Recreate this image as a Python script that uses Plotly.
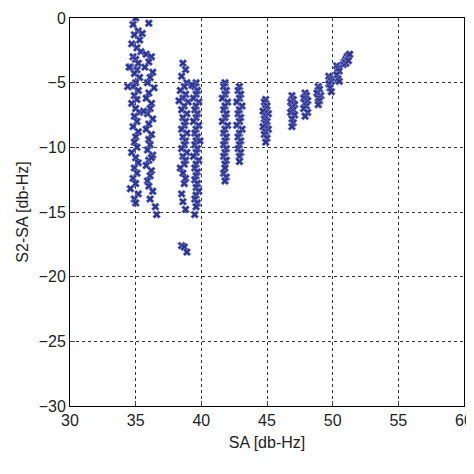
import plotly.graph_objects as go

# SA values (db-Hz) and S2-SA values (db-Hz)
col_a_x = [35.0, 34.8, 35.2, 34.9, 35.3, 34.7, 35.1, 35.4, 34.8, 35.0, 35.2, 34.6, 35.1, 34.9, 35.3, 35.0,
           34.8, 35.2, 34.9, 35.1, 34.7, 35.0, 35.3, 34.9, 35.1, 34.8, 35.2, 35.0, 34.9, 35.1, 34.7, 35.0,
           35.2, 34.9, 35.1, 34.8, 35.0, 34.6, 35.2, 34.9, 34.5, 34.4, 35.5, 35.0]
col_a_y = [0, -0.5, -1, -1.3, -1.7, -2, -2.3, -2.6, -3, -3.2, -3.5, -3.8, -4, -4.3, -4.6, -5,
           -5.3, -5.6, -6, -6.3, -6.6, -7, -7.3, -7.6, -8, -8.4, -8.8, -9.2, -9.6, -10, -10.4, -10.8,
           -11.2, -11.6, -12, -12.4, -12.8, -13.2, -13.6, -14, -3.8, -5.3, -1.2, -14.3]
col_b_x = [36.0, 35.8, 36.2, 36.0, 35.7, 36.3, 36.1, 35.9, 36.4, 36.0, 35.8, 36.2, 36.1, 35.9, 36.3, 36.0,
           35.8, 36.2, 36.0, 36.1, 35.9, 36.3, 36.0, 35.8, 36.2, 36.1, 35.9, 36.0, 36.3, 36.1, 36.5, 36.6,
           35.6, 36.2]
col_b_y = [-0.4, -2.8, -3, -3.4, -3.8, -4.2, -4.6, -5, -5.4, -5.8, -6.2, -6.6, -7, -7.4, -7.8, -8.2,
           -8.6, -9, -9.4, -9.8, -10.2, -10.6, -11, -11.4, -11.8, -12.2, -12.6, -13, -13.4, -14, -14.6, -15.2,
           -7.2, -10.8]
col_c_x = [38.6, 38.8, 38.5, 38.9, 38.7, 38.4, 38.8, 38.6, 39.0, 38.7, 38.5, 38.9, 38.6, 38.8, 38.7, 38.5,
           38.9, 38.6, 38.8, 38.7, 38.5, 38.9, 38.6, 38.8, 38.7, 38.4, 38.6, 38.8, 38.7, 38.5, 38.6, 38.8,
           38.5, 38.7, 38.9, 38.3]
col_c_y = [-3.5, -4, -4.5, -5, -5.3, -5.6, -5.9, -6.2, -6.5, -6.8, -7.1, -7.4, -7.7, -8, -8.3, -8.6,
           -8.9, -9.2, -9.5, -9.8, -10.1, -10.4, -10.7, -11, -11.3, -11.6, -12, -12.4, -12.8, -13.6, -14.2, -14.8,
           -17.6, -17.7, -18.1, -6.4]
col_d_x = [39.6, 39.5, 39.7, 39.6, 39.4, 39.8, 39.6, 39.5, 39.7, 39.6, 39.4, 39.8, 39.6, 39.5, 39.7, 39.6,
           39.5, 39.7, 39.6, 39.4, 39.8, 39.6, 39.5, 39.7, 39.6, 39.5, 39.7, 39.6, 39.8, 39.6, 39.5, 39.7,
           39.6, 39.9, 39.5, 39.3]
col_d_y = [-5, -5.3, -5.6, -5.9, -6.2, -6.5, -6.8, -7.1, -7.4, -7.7, -8, -8.3, -8.6, -8.9, -9.2, -9.5,
           -9.8, -10.1, -10.4, -10.7, -11, -11.3, -11.6, -11.9, -12.2, -12.5, -12.8, -13.1, -13.4, -13.7, -14, -14.3,
           -14.6, -9.5, -15.2, -5.2]
col_e_x = [41.8, 41.7, 41.9, 41.8, 41.6, 42.0, 41.8, 41.7, 41.9, 41.8, 41.6, 42.0, 41.8, 41.7, 41.9, 41.8,
           41.7, 41.9, 41.8, 41.7, 41.9, 41.8, 41.8, 41.7, 41.9, 41.8]
col_e_y = [-5, -5.3, -5.6, -5.9, -6.2, -6.5, -6.8, -7.1, -7.4, -7.7, -8, -8.3, -8.6, -8.9, -9.2, -9.5,
           -9.8, -10.1, -10.4, -10.7, -11, -11.3, -11.6, -12, -12.3, -12.6]
col_f_x = [42.9, 42.8, 43.0, 42.9, 42.7, 43.1, 42.9, 42.8, 43.0, 42.9, 42.7, 43.1, 42.9, 42.8, 43.0, 42.9,
           42.8, 43.0, 42.9, 42.9]
col_f_y = [-5.3, -5.6, -5.9, -6.2, -6.5, -6.8, -7.1, -7.4, -7.7, -8, -8.3, -8.6, -8.9, -9.2, -9.5, -9.8,
           -10.1, -10.4, -10.7, -11.1]
col_g_x = [44.9, 44.8, 45.0, 44.9, 44.7, 45.1, 44.9, 44.8, 45.0, 44.9, 44.7, 45.1, 44.9, 44.8, 45.0, 44.9]
col_g_y = [-6.3, -6.5, -6.8, -7.0, -7.2, -7.4, -7.6, -7.8, -8.0, -8.2, -8.4, -8.6, -8.8, -9.0, -9.3, -9.6]
col_h_x = [46.9, 47.0, 46.8, 47.1, 46.9, 47.0, 46.8, 47.1, 46.9, 47.0, 46.9]
col_h_y = [-6.0, -6.3, -6.5, -6.7, -6.9, -7.1, -7.3, -7.5, -7.8, -8.1, -8.4]
col_i_x = [47.9, 48.0, 47.8, 48.1, 47.9, 48.0, 47.8, 48.1, 47.9]
col_i_y = [-5.8, -6.0, -6.2, -6.4, -6.6, -6.8, -7.0, -7.3, -7.6]
col_j_x = [48.9, 49.0, 48.8, 49.1, 48.9, 49.0, 48.9]
col_j_y = [-5.3, -5.5, -5.8, -6.0, -6.2, -6.4, -6.7]
col_k_x = [49.7, 49.8, 49.9, 49.7, 49.8, 49.9]
col_k_y = [-4.5, -4.7, -4.9, -5.1, -5.4, -5.7]
col_l_x = [50.3, 50.4, 50.5, 50.3, 50.4, 50.5]
col_l_y = [-3.7, -3.9, -4.1, -4.4, -4.7, -4.9]
col_m_x = [50.8, 50.9, 51.0, 51.1, 51.2, 51.3, 51.0, 51.2]
col_m_y = [-3.6, -3.4, -3.2, -3.0, -2.9, -2.8, -3.5, -3.3]

xs = (col_a_x + col_b_x + col_c_x + col_d_x + col_e_x + col_f_x + col_g_x
      + col_h_x + col_i_x + col_j_x + col_k_x + col_l_x + col_m_x)
ys = (col_a_y + col_b_y + col_c_y + col_d_y + col_e_y + col_f_y + col_g_y
      + col_h_y + col_i_y + col_j_y + col_k_y + col_l_y + col_m_y)

fig = go.Figure(go.Scatter(
    x=xs, y=ys, mode="markers",
    marker=dict(symbol="x", size=7, color="#2b3494",
                line=dict(width=0.6, color="#8f95d0")),
))

axis_style = dict(showgrid=True, gridcolor="#333", griddash="dot", gridwidth=1,
                  showline=True, linecolor="black", linewidth=1, mirror=True,
                  ticks="inside", ticklen=5, zeroline=False,
                  tickfont=dict(size=16, color="#222"))

fig.update_layout(
    width=474, height=474,
    margin=dict(l=62, r=18, t=10, b=76, autoexpand=False),
    plot_bgcolor="white", paper_bgcolor="white",
    font=dict(family="Liberation Sans, Arial", color="#222"),
    showlegend=False,
)
fig.update_xaxes(range=[30, 60], dtick=5, title=dict(text="SA [db-Hz]", font=dict(size=16), standoff=8),
                 **axis_style)
fig.update_yaxes(range=[-30, 0], dtick=5, title=dict(text="S2-SA [db-Hz]", font=dict(size=16), standoff=6),
                 **axis_style)

fig.write_html("out.html")
